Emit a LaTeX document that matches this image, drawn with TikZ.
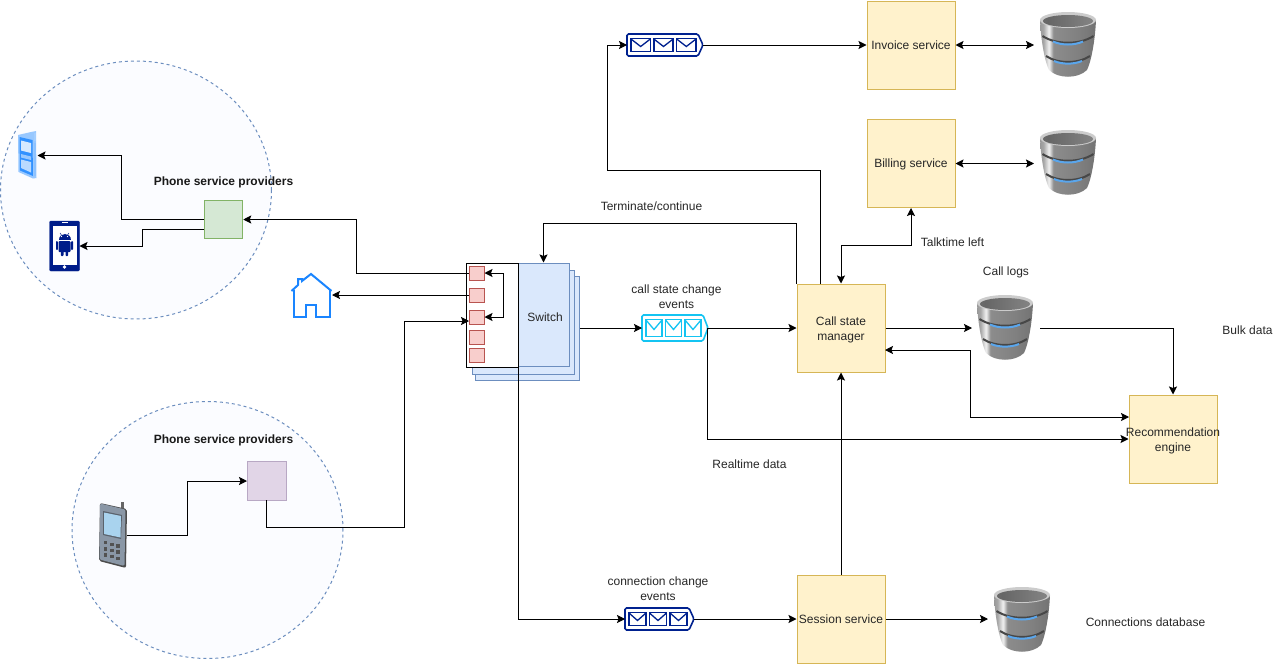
\documentclass[tikz,border=0pt]{standalone}
\usepackage{fontspec}
\setmainfont{Liberation Sans}
\usetikzlibrary{arrows.meta,calc,shapes.geometric}
\definecolor{yfill}{HTML}{FFF2CC}\definecolor{ydraw}{HTML}{D6B656}
\definecolor{gfill}{HTML}{D5E8D4}\definecolor{gdraw}{HTML}{82B366}
\definecolor{pfill}{HTML}{E1D5E7}\definecolor{pdraw}{HTML}{B8A8C4}
\definecolor{rfill}{HTML}{F8CECC}\definecolor{rdraw}{HTML}{B85450}
\definecolor{bfill}{HTML}{DAE8FC}\definecolor{bdraw}{HTML}{6C8EBF}
\definecolor{zonefill}{HTML}{FBFCFF}
\definecolor{qnavy}{HTML}{00218F}\definecolor{qcyan}{HTML}{14C4F2}
\definecolor{house}{HTML}{1A85FF}\definecolor{andro}{HTML}{001D8A}
\definecolor{qblue}{HTML}{5AA6EC}
\definecolor{cellbody}{HTML}{8A97A6}\definecolor{cellscreen}{HTML}{A9D3EE}
\pgfdeclarehorizontalshading{dbbody}{100bp}{color(0bp)=(black!55);color(20bp)=(black!48);color(28bp)=(black!35);color(33bp)=(black!5);color(37bp)=(black!45);color(60bp)=(black!50);color(85bp)=(black!58);color(100bp)=(black!72)}
\pgfdeclarehorizontalshading{dbrim}{100bp}{color(0bp)=(black!50);color(30bp)=(black!60);color(100bp)=(black!42)}
\newcommand\dbicon[2]{%
\begin{scope}[shift={(#1,#2)}]
\path[shading=dbbody] (-28,8) .. controls (-27,30) and (-23,50) .. (-19,58) .. controls (-10,67) and (10,67) .. (19,58) .. controls (23,50) and (27,30) .. (28,8) -- cycle;
\fill[black!20] (0,8) ellipse [x radius=28,y radius=8];
\path[shading=dbrim] (0,9) ellipse [x radius=25,y radius=6];
\draw[black!72,line width=2pt] (-25.5,24) .. controls (-12,33) and (12,33) .. (25.5,24);
\draw[black!72,line width=2pt] (-22,44) .. controls (-10,52) and (10,52) .. (22,44);
\draw[qblue,line width=2pt] (-15,29.5) .. controls (-6,33.5) and (6,33.5) .. (15,29.5);
\draw[qblue,line width=2pt] (-14,49) .. controls (-6,52.5) and (6,52.5) .. (14,49);
\end{scope}}
\newcommand\qicon[6]{%
\node[iconbox,minimum width={(#4-#2)*1pt},minimum height={(#5-#3)*1pt}] (#1) at ({(#2+#4)/2},{(#3+#5)/2}) {};
\draw[#6,line width=1.6pt,rounded corners=1.5pt,fill=white] (#2,#3) -- ({#4-5},#3) -- (#4,{(#3+#5)/2}) -- ({#4-5},#5) -- (#2,#5) -- cycle;
\foreach \k in {0,1,2}{%
\pgfmathsetmacro\ew{(#4-#2-11-7)/3}
\pgfmathsetmacro\ex{#2+4+\k*(\ew+3.5)}
\draw[#6,line width=1.6pt] (\ex,#3+4.5) rectangle (\ex+\ew,#5-4.5);
\draw[#6,line width=1.3pt] (\ex,#3+5) -- (\ex+\ew/2,{(#3+#5)/2+1.5}) -- (\ex+\ew,#3+5);
}}
\tikzset{
 x=1pt,y=-1pt,
 >={Stealth[length=8pt,width=8pt,inset=1.5pt]},
 conn/.style={line width=1pt,draw=black,->,rounded corners=0pt},
 bothconn/.style={line width=1pt,draw=black,<->},
 svc/.style={draw=ydraw,fill=yfill,line width=1pt,minimum width=88pt,minimum height=88pt,inner sep=0pt,align=center,text=black!85},
 zone/.style={draw=bdraw,fill=zonefill,line width=1pt,dash pattern=on 3pt off 3pt},
 port/.style={draw=rdraw,fill=rfill,line width=1pt,minimum width=15pt,minimum height=14pt,inner sep=0pt},
 layer/.style={draw=bdraw,fill=bfill,line width=1pt,inner sep=0pt},
 iconbox/.style={inner sep=0pt,outer sep=0pt},
 lbl/.style={inner sep=0pt,align=center,text=black!85},
 lblb/.style={inner sep=0pt,align=center,text=black!90,font=\fontsize{12}{15}\selectfont\bfseries},
}
\begin{document}
\begin{tikzpicture}[font=\fontsize{12}{15}\selectfont]
\useasboundingbox (0,0) rectangle (1278,664);
% zones
\node[zone,ellipse,minimum width=271pt,minimum height=258pt,inner sep=0pt] (zoneA) at (136,190) {};
\node[zone,ellipse,minimum width=271pt,minimum height=257pt,inner sep=0pt] (zoneB) at (207.5,530) {};
\node[lblb] (lblA) at (223.5,182) {Phone service providers};
\node[lblb] (lblB) at (223.5,440) {Phone service providers};
% provider boxes
\node[draw=gdraw,fill=gfill,line width=1pt,minimum size=38.5pt,inner sep=0pt] (green) at (223.5,219.5) {};
\node[draw=pdraw,fill=pfill,line width=.6pt,minimum size=39pt,inner sep=0pt] (purple) at (266.5,480.5) {};
% PDA icon
\node[iconbox,minimum width=19pt,minimum height=48pt] (pda) at (28,155.5) {};
\fill[house!45] (18,135) -- (31,132) -- (36,131) -- (36.5,178) -- (33,178.5) -- (18.5,172) -- cycle;
\fill[house!90] (19.5,137) -- (32.5,140) -- (33,176) -- (20,170.5) -- cycle;
\fill[white!82!house] (21,140.5) -- (31,143) -- (31,153) -- (21,150.5) -- cycle;
\fill[white!55!house] (21,154) -- (31,156.5) -- (31,160) -- (21,157.5) -- cycle;
\fill[white!70!house] (21,159.5) -- (31,162) -- (31,172.5) -- (21,168) -- cycle;
\fill[white!60!house] (33.5,133) rectangle (35.5,141);
\fill[white!50!house] (33.8,143) rectangle (35.5,176);
% Android phone
\node[iconbox,draw=andro,fill=andro,rounded corners=1.2pt,minimum width=30pt,minimum height=50pt,line width=.4pt] (droid) at (64.5,246) {};
\fill[white] (52.5,225.5) rectangle (77,264.5);
\fill[white] (64.5,267) circle (1.9);
\fill[white] (61.5,222) rectangle (67.5,223);
\fill[andro] (58.5,240) .. controls (58.5,232) and (70.5,232) .. (70.5,240) -- cycle;
\fill[white] (61.5,236.5) circle (.6) (67.5,236.5) circle (.6);
\draw[andro,line width=.5pt] (60,233) -- (61.5,235) (69,233) -- (67.5,235);
\fill[andro,rounded corners=1pt] (58.5,241) rectangle (70.5,252);
\fill[andro,rounded corners=.8pt] (56,241) rectangle (57.8,250);
\fill[andro,rounded corners=.8pt] (71.2,241) rectangle (73,250);
\fill[andro,rounded corners=.8pt] (60.8,251) rectangle (63.5,256);
\fill[andro,rounded corners=.8pt] (65.5,251) rectangle (68.2,256);
% house
\node[iconbox,minimum width=42pt,minimum height=44pt] (home) at (311,295) {};
\draw[house,line width=2pt,line join=miter] (291.5,291) -- (298,285) -- (298,279) -- (302,279) -- (302,281) -- (311,274) -- (331.5,291);
\draw[house,line width=2pt] (293.5,289.5) -- (293.5,317) -- (306,317) -- (306,304.5) -- (316,304.5) -- (316,317) -- (330,317) -- (330,289.5);
% feature phone
\node[iconbox,minimum width=28pt,minimum height=66pt] (cell) at (113,535) {};
\fill[black!60] (121,502) rectangle (123.5,510);
\fill[black!70,rounded corners=2pt] (100,503) -- (127,509) -- (126,568) -- (99,561) -- cycle;
\fill[cellbody,rounded corners=1.5pt] (100,503.5) -- (125.5,509.5) -- (124.5,566) -- (99.5,559.5) -- cycle;
\fill[black!35!cellbody] (103,511) -- (122,515) -- (121,539) -- (103,535) -- cycle;
\fill[cellscreen] (104,512.5) -- (121,516) -- (120.5,537.5) -- (104,534) -- cycle;
\foreach \c in {0,1,2}\foreach \r in {0,1,2}{\fill[black!68] ({104+\c*6.2},{541+\r*6.2+\c*1.6}) rectangle +(3.4,3.4);}
% switch stack
\node[layer,minimum width=104pt,minimum height=104pt] (stackC) at (527.7,328) {};
\node[layer,minimum width=102pt,minimum height=104pt] (stackB) at (523,322) {};
\node[layer,minimum width=51pt,minimum height=103pt] (sw) at (543.5,314.5) {};
\draw[layer] (515,263) rectangle (569,366);
\node[lbl] (swlabel) at (545,317) {Switch};
\node[draw=black,fill=white,line width=1pt,minimum width=52pt,minimum height=104pt,inner sep=0pt] (swport) at (492,315) {};
\node[port] (p1) at (476.5,273) {};
\node[port] (p2) at (476.5,295) {};
\node[port] (p3) at (476.5,317) {};
\node[port] (p4) at (476.5,337) {};
\node[port] (p5) at (476.5,355) {};
% services
\node[svc] (invoice) at (911,45) {Invoice service};
\node[svc] (billing) at (911,163.5) {};
\node[svc] (csm) at (841,328) {};
\node[svc] (session) at (841,619) {Session service};
\node[svc] (reco) at (1173,439) {};
% queues
\qicon{qtop}{627}{34}{703}{56}{qnavy}
\qicon{qcall}{642}{315}{708}{341}{qcyan}
\qicon{qconn}{625}{608}{694}{630}{qnavy}
% databases
\node[iconbox,minimum width=62pt,minimum height=66pt] (dbinv) at (1065,45) {};
\node[iconbox,minimum width=62pt,minimum height=66pt] (dbbill) at (1065,163.5) {};
\node[iconbox,minimum width=68pt,minimum height=66pt] (dblogs) at (1006,328) {};
\node[iconbox,minimum width=64pt,minimum height=66pt] (dbconn) at (1020,619) {};
\dbicon{1068}{12}
\dbicon{1068}{130}
\dbicon{1005}{295}
\dbicon{1022}{587}
% connectors
\draw[conn] (p1.west) -- (356,273) |- (green.east);
\draw[conn] (p2.west) -- (home.east);
\coordinate (p3in) at (469,321);
\draw[conn] (purple.south) |- (404,527) |- (p3in);
\coordinate (gout1) at (204,219.5);
\coordinate (gout2) at (204,229);
\draw[conn] (gout1) -- (121,219.5) |- (pda.east);
\draw[conn] (gout2) -- (142,229) |- (droid.east);
\coordinate (cellout) at (127,535);
\draw[conn] (cellout) -- (187,535) |- (247,481);
\coordinate (jmp) at (503,295);
\draw[conn] (jmp) |- (p1.east);
\draw[conn] (jmp) |- (p3.east);
\draw[conn] (stackC.east) -- (qcall.west);
\draw[conn] (qcall.east) -- (csm.west);
\draw[conn] (qcall.east) -- (707.5,328) |- (reco.west);
\draw[conn] (swport.south east) |- (qconn.west);
\draw[conn] (qconn.east) -- (session.west);
\draw[conn] (session.north) -- (csm.south);
\draw[conn] (session.east) -- (dbconn.west);
\draw[conn] (csm.north west) |- (543.5,223) -- (sw.north);
\coordinate (csmtop) at (820,284);
\draw[conn] (csmtop) |- (607,170) |- (qtop.west);
\draw[conn] (qtop.east) -- (invoice.west);
\draw[bothconn] (invoice.east) -- (dbinv.west);
\draw[bothconn] (billing.east) -- (dbbill.west);
\draw[bothconn] (billing.south) |- (841,245) -- (csm.north);
\draw[conn] (csm.east) -- (dblogs.west);
\draw[conn] (dblogs.east) -| (reco.north);
\coordinate (csmback) at (885,350);
\coordinate (recoin) at (1129,417);
\draw[bothconn] (csmback) -- (970,350) |- (recoin);
% labels
\node[lbl] (biltxt) at (911,164.5) {Billing service};
\node[lbl] (csmtxt) at (841,329.5) {Call state\\manager};
\node[lbl] (reclbl) at (1173,440.5) {Recommendation\\engine};
\node[lbl] at (651.5,206) {Terminate/continue};
\node[lbl] at (676.5,297) {call state change\\events};
\node[lbl] at (658,589) {connection change\\events};
\node[lbl] at (952.5,242) {Talktime left};
\node[lbl] at (1006,272) {Call logs};
\node[lbl] at (1247.5,330.5) {Bulk data};
\node[lbl] at (749.5,464.5) {Realtime data};
\node[lbl] at (1145.5,622) {Connections database};
\end{tikzpicture}
\end{document}
